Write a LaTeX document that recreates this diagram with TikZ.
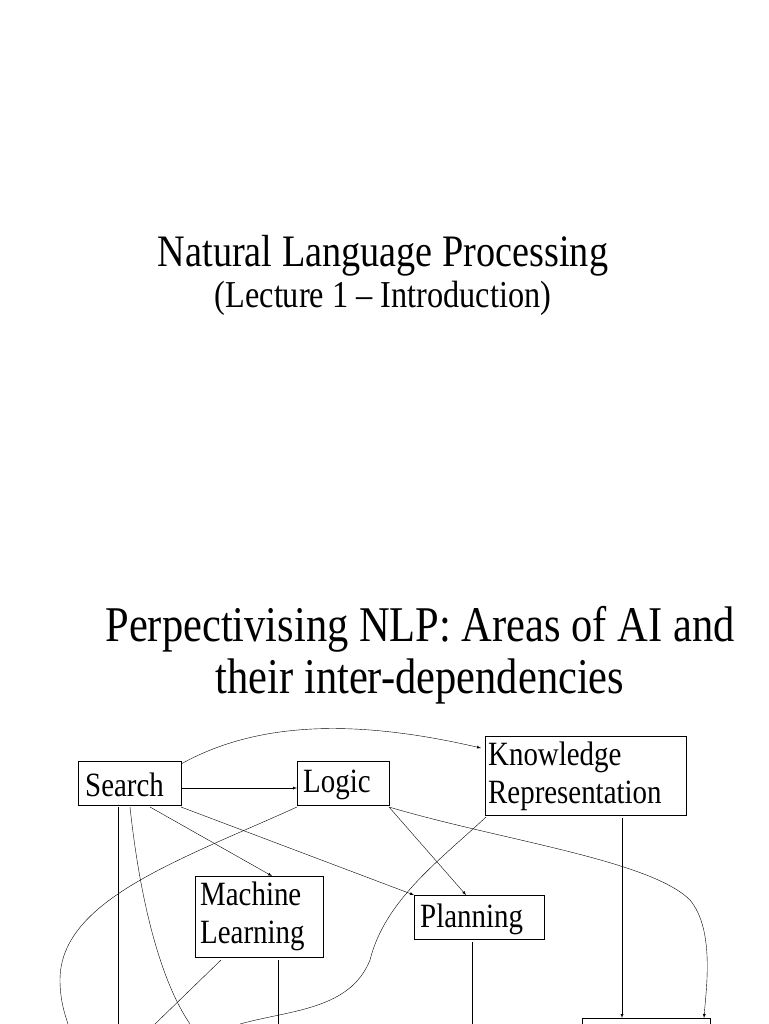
\documentclass[tikz,border=0pt]{standalone}
\usepackage{fontspec}
\setmainfont[FakeStretch=0.85]{Liberation Serif}
\begin{document}
\begin{tikzpicture}[x=1pt,y=-1pt,
  lbl/.style={font=\fontsize{34}{38}\selectfont,inner sep=0pt,align=left},
  ar/.style={-latex,thin},ln/.style={thin},bxl/.style={semithick}]
\useasboundingbox (0,0) rectangle (768,1024);
\node (t1) at (383,256) {\fontsize{45}{50}\selectfont Natural Language Processing};
\node (t2) at (383,298) {\fontsize{38}{42}\selectfont (Lecture 1 -- Introduction)};
\node (t3) at (420,655) [align=center,font=\fontsize{50}{52}\selectfont] {Perpectivising NLP: Areas of AI and\\their inter-dependencies};
\draw[bxl] (78,761) rectangle (181,805);
\node[lbl,anchor=west] (s) at (85,785) {Search};
\draw[bxl] (297,761) rectangle (389,805);
\node[lbl,anchor=west] (l) at (303,785) {Logic};
\draw[bxl] (485,736) rectangle (686,815);
\node[lbl,anchor=north west] (k) at (488,742) {Knowledge\\Representation};
\draw[bxl] (195,876) rectangle (323,957);
\node[lbl,anchor=north west] (m) at (200,882) {Machine\\Learning};
\draw[bxl] (414,895) rectangle (544,939);
\node[lbl,anchor=west] (p) at (420,919) {Planning};
\draw[bxl] (582,1030) -- (582,1018) -- (710,1018) -- (710,1030);
\coordinate (a) at (181,764);
\draw[ar] (a) .. controls (260,720) and (360,720) .. (481,748);
\draw[ar] (181,788) -- (297,788);
\draw[ar] (150,807) -- (272,876);
\draw[ar] (181,807) -- (414,895);
\draw[ln] (118,807) -- (118,1024);
\draw[ln] (130,807) .. controls (140,900) and (160,980) .. (190,1024);
\draw[ln] (297,807) .. controls (180,860) and (60,900) .. (60,980) .. controls (60,1000) and (65,1015) .. (68,1024);
\draw[ar] (389,807) -- (466,895);
\draw[ar] (389,807) .. controls (500,840) and (650,860) .. (690,900) .. controls (715,930) and (706,990) .. (704,1018);
\draw[ln] (486,817) .. controls (440,860) and (385,900) .. (370,960) .. controls (350,1010) and (290,1010) .. (240,1024);
\draw[ar] (622,818) -- (622,1018);
\draw[ln] (221,960) -- (155,1024);
\draw[ln] (278,960) -- (278,1024);
\draw[ln] (472,942) -- (472,1024);
\end{tikzpicture}
\end{document}
